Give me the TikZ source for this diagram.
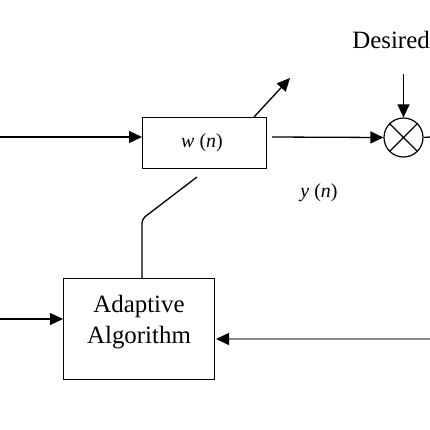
\documentclass[tikz,border=0pt]{standalone}
\usepackage{fontspec}
\setmainfont{Liberation Serif}
\usetikzlibrary{arrows.meta}
\tikzset{tip/.tip={Triangle[length=13bp,width=12bp]}}
\begin{document}
\begin{tikzpicture}[x=1bp,y=-1bp,
  line/.style={line width=1.3bp,draw=black},
  arr/.style={line,-tip},
  blk/.style={draw,line width=1.2bp,inner sep=0pt,anchor=north west},
  lbl/.style={inner sep=0pt}]
\useasboundingbox (0,0) rectangle (430,430);
% blocks
\node[blk,minimum width=124bp,minimum height=51bp] (w) at (142,117) {};
\node[lbl,font=\fontsize{20}{20}\selectfont] (wl) at (202,143) {\textit{w}\ (\textit{n})};
\node[blk,minimum width=151bp,minimum height=101bp] (aa) at (63,278) {};
\node[lbl,font=\fontsize{25}{31}\selectfont,align=center,anchor=base] (al) at (139,343) {Adaptive\\Algorithm};
% summing junction
\node[draw,circle,line width=1.2bp,minimum size=39bp,inner sep=0pt] (s) at (403.5,137.5) {};
\draw[line width=1.1bp] (s.45)--(s.225) (s.135)--(s.315);
% labels
\node[lbl,font=\fontsize{25}{25}\selectfont,anchor=base east] (d) at (430,48) {Desired};
\node[lbl,font=\fontsize{20}{20}\selectfont] (yl) at (319,193) {\textit{y}\ (\textit{n})};
% coordinates
\coordinate (in1) at (0,137);
\coordinate (in2) at (0,319);
\coordinate (o1) at (272,137);
\coordinate (o2) at (430,137);
\coordinate (dt) at (403.5,74);
\coordinate (fb) at (430,339);
\coordinate (u1) at (254,117);
\coordinate (u2) at (290,78);
\coordinate (v1) at (197,177);
\coordinate (v2) at (142,219);
% connectors
\draw[arr] (in1) -- (in1 -| w.west);
\draw[arr] (o1) -- (s.west);
\draw[line] (s.east) -- (o2);
\draw[arr] (dt) -- (s.north);
\draw[arr] (u1) -- (u2);
\draw[line,rounded corners=4bp] (v1) -- (v2) -- (v2 |- aa.north);
\draw[arr] (in2) -- (in2 -| aa.west);
\draw[line,draw=black!45,-{Triangle[length=13bp,width=12bp,color=black]}] (fb) -- (216,339);
\end{tikzpicture}
\end{document}
